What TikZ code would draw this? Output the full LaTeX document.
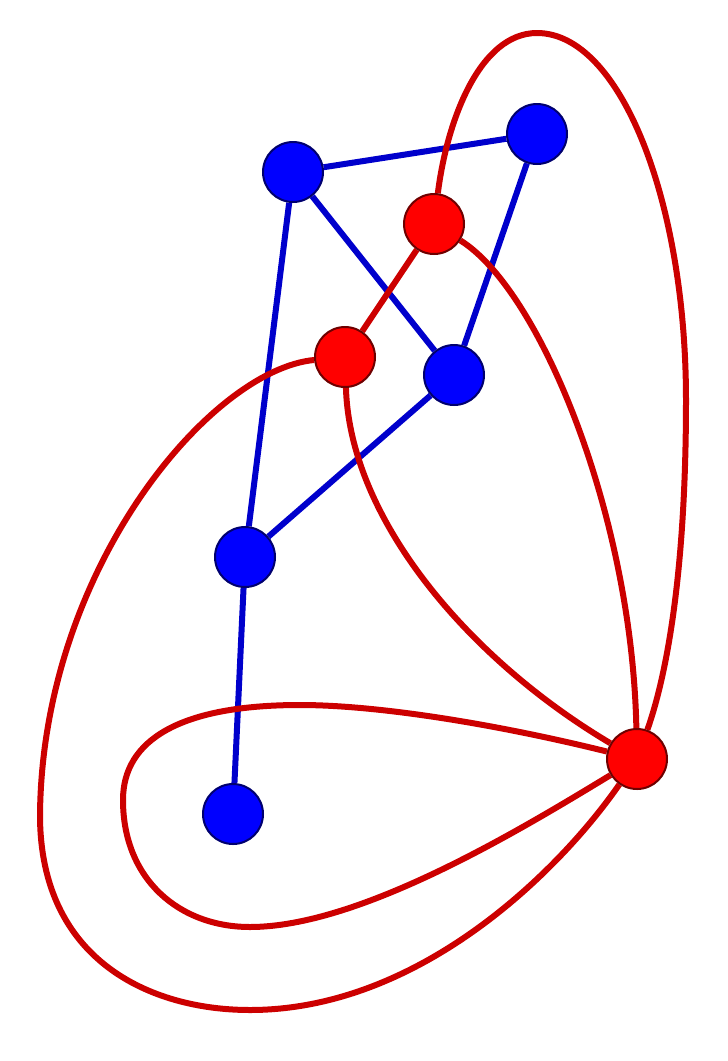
\documentclass[tikz,border=0pt]{standalone}
\usepackage{tikz}
\usetikzlibrary{backgrounds}

\definecolor{bluefill}{RGB}{0,0,255}
\definecolor{blueline}{RGB}{0,0,204}
\definecolor{blueedge}{RGB}{0,0,110}
\definecolor{redfill}{RGB}{255,0,0}
\definecolor{redline}{RGB}{204,0,0}
\definecolor{rededge}{RGB}{110,0,0}

\begin{document}
\begin{tikzpicture}[x=1pt,y=-1pt,
  bluevertex/.style={circle,fill=bluefill,draw=blueedge,line width=2pt,minimum size=60pt,inner sep=0pt},
  redvertex/.style={circle,fill=redfill,draw=rededge,line width=2pt,minimum size=60pt,inner sep=0pt},
  blueedge/.style={draw=blueline,line width=6pt},
  rededge/.style={draw=redline,line width=6pt}]
\useasboundingbox (0,0) rectangle (728,1061);

\path (293,172) node[bluevertex](b1){} (537,134) node[bluevertex](b2){} (454,375) node[bluevertex](b3){} (245,557) node[bluevertex](b4){} (233,814) node[bluevertex](b5){};
\path (434,224) node[redvertex](r1){} (345,357) node[redvertex](r2){} (637,759) node[redvertex](r3){};

\begin{scope}[on background layer]
% primal graph
\draw[blueedge] (b1) -- (b2);
\draw[blueedge] (b1) -- (b4);
\draw[blueedge] (b1) -- (b3);
\draw[blueedge] (b2) -- (b3);
\draw[blueedge] (b3) -- (b4);
\draw[blueedge] (b4) -- (b5);

% dual graph
\draw[rededge] (r1) -- (r2);
\draw[rededge] (r1) .. controls (540,290) and (632,515) .. (r3);
\draw[rededge] (r2) .. controls (350,520) and (470,660) .. (r3);
\draw[rededge] (r1) .. controls (447,120) and (480,33) .. (537,33) .. controls (620,33) and (686,200) .. (686,400) .. controls (686,580) and (665,680) .. (r3);
\draw[rededge] (r3) .. controls (500,725) and (380,705) .. (300,705) .. controls (180,705) and (123,740) .. (123,800) .. controls (123,880) and (180,927) .. (250,927) .. controls (360,927) and (520,830) .. (r3);
\draw[rededge] (r2) .. controls (210,370) and (42,570) .. (40,815) .. controls (40,960) and (150,1010) .. (250,1010) .. controls (420,1010) and (560,870) .. (r3);
\end{scope}
\end{tikzpicture}
\end{document}
